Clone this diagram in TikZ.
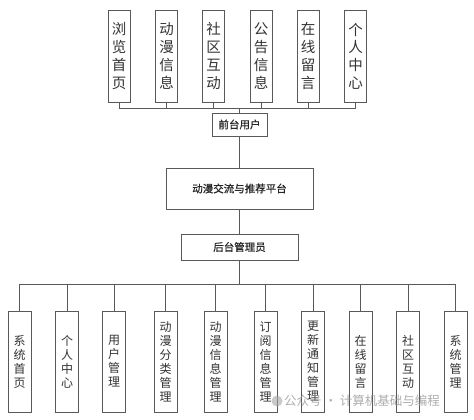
\documentclass[tikz,border=0pt]{standalone}
\usepackage{fontspec}
\newfontfamily\cjk{Noto Sans CJK SC}
\newfontfamily\cjkm{Noto Sans CJK SC}[FakeBold=0.8]
\begin{document}
\begin{tikzpicture}[x=1pt,y=-1pt,
  line/.style={draw=black!65, line width=0.9pt},
  topbox/.style={line, fill=white, minimum width=22pt, minimum height=92pt, inner sep=0pt,
    text=black!80, align=center, font=\cjk\fontsize{14.5}{17.7}\selectfont},
  midbox/.style={line, fill=white, inner sep=0pt, text=black!85,
    font=\cjkm\fontsize{10.5}{12}\selectfont},
  botbox/.style={line, fill=white, minimum width=23pt, minimum height=101pt, inner sep=0pt,
    text=black!80, align=center, font=\cjk\fontsize{12}{14}\selectfont},
  conn/.style={line}
]
\useasboundingbox (0,0) rectangle (474,420);
% top boxes
\node[topbox] (t1) at (119,56) {浏\\览\\首\\页};
\node[topbox] (t2) at (166.5,56) {动\\漫\\信\\息};
\node[topbox] (t3) at (213.5,56) {社\\区\\互\\动};
\node[topbox] (t4) at (261,56) {公\\告\\信\\息};
\node[topbox] (t5) at (308,56) {在\\线\\留\\言};
\node[topbox] (t6) at (355.5,56) {个\\人\\中\\心};
% middle
\node[midbox, minimum width=55pt, minimum height=23pt] (front) at (239.5,124.5) {前台用户};
\node[midbox, minimum width=147pt, minimum height=41pt] (plat) at (239.5,188.5) {动漫交流与推荐平台};
\node[midbox, minimum width=117pt, minimum height=26pt] (admin) at (239.5,247) {后台管理员};
% bottom boxes
\node[botbox] (b1) at (19.5,361.5) {系\\统\\首\\页};
\node[botbox] (b2) at (67,361.5) {个\\人\\中\\心};
\node[botbox] (b3) at (114,361.5) {用\\户\\管\\理};
\node[botbox] (b4) at (165.5,361.5) {动\\漫\\分\\类\\管\\理};
\node[botbox] (b5) at (215.5,361.5) {动\\漫\\信\\息\\管\\理};
\node[botbox] (b6) at (265.5,361.5) {订\\阅\\信\\息\\管\\理};
\node[botbox] (b7) at (313,361.5) {更\\新\\通\\知\\管\\理};
\node[botbox] (b8) at (360.5,361.5) {在\\线\\留\\言};
\node[botbox] (b9) at (408,361.5) {社\\区\\互\\动};
\node[botbox] (b10) at (455.5,361.5) {系\\统\\管\\理};
% connectors
\coordinate (tb) at (239.5,108);
\foreach \i in {1,...,6} {\draw[conn] (t\i.south) |- (tb);}
\draw[conn] (tb) -- (front.north);
\draw[conn] (front.south) -- (plat.north);
\draw[conn] (plat.south) -- (admin.north);
\coordinate (bb) at (239.5,284);
\draw[conn] (admin.south) -- (bb);
\foreach \i in {1,...,10} {\draw[conn] (bb) -| (b\i.north);}
% watermark
\fill[black!35, opacity=0.6] (277,401) circle (5.5pt);
\node[anchor=west, text=black!40, opacity=0.8, inner sep=0pt, font=\cjk\fontsize{12.5}{14}\selectfont] (wm) at (284,401) {公众号 · 计算机基础与编程};
\end{tikzpicture}
\end{document}
